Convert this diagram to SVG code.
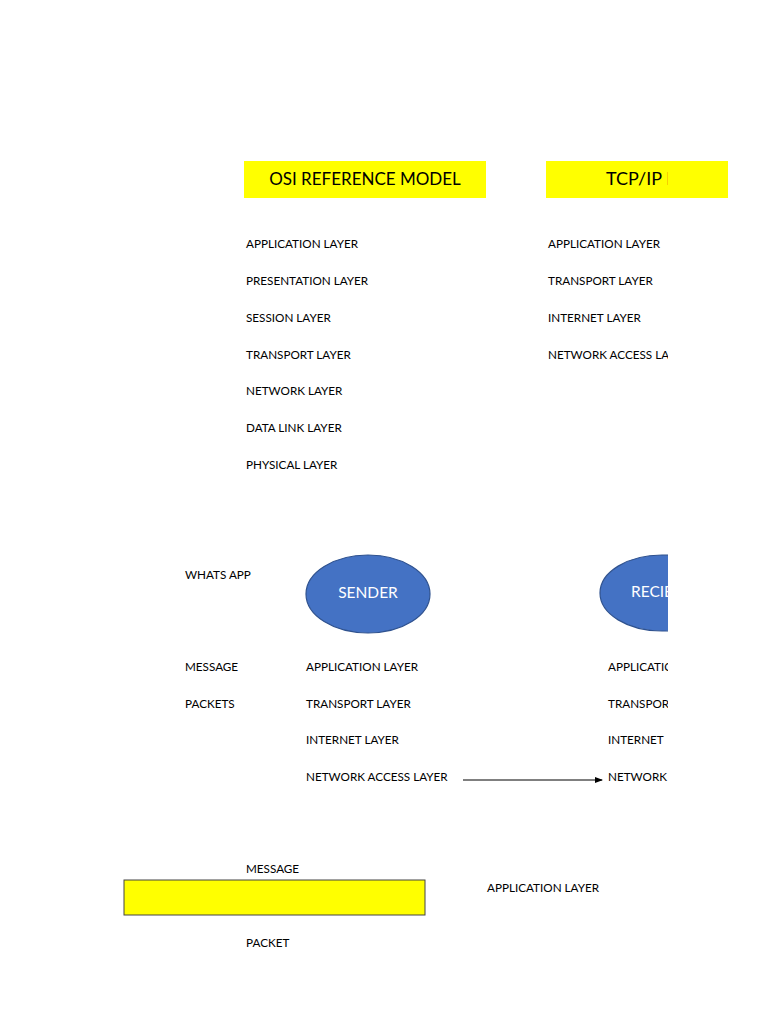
<svg xmlns="http://www.w3.org/2000/svg" width="768" height="1024" viewBox="0 0 768 1024">
<style>
.t{font-family:Lato,"Liberation Sans",sans-serif;font-size:11.7px;fill:#000}
.h{font-family:Lato,"Liberation Sans",sans-serif;font-size:17px;fill:#000}
.w{font-family:Lato,"Liberation Sans",sans-serif;font-size:15.5px;fill:#fff;text-anchor:middle}
.ell{fill:#4472C4;stroke:#2F528F;stroke-width:1.2}
</style>
<defs>
<clipPath id="clip"><rect x="0" y="0" width="668" height="1024"/></clipPath>
<marker id="arr" markerWidth="8" markerHeight="8" refX="7" refY="4" orient="auto" markerUnits="userSpaceOnUse">
<path d="M0,1 L8,4 L0,7 Z" fill="#000"/>
</marker>
</defs>
<rect width="768" height="1024" fill="#fff"/>
<g id="osi-title">
<rect x="244" y="161" width="242" height="37" fill="#FFFF00"/>
<text class="h" x="365" y="185" text-anchor="middle">OSI REFERENCE MODEL</text>
</g>
<g id="tcp-title">
<rect x="546" y="161" width="182" height="37" fill="#FFFF00"/>
<text class="h" x="606" y="185" style="font-size:18px" clip-path="url(#clip)">TCP/IP M</text>
</g>
<g id="osi-layers">
<text class="t" x="246" y="248">APPLICATION LAYER</text>
<text class="t" x="246" y="285">PRESENTATION LAYER</text>
<text class="t" x="246" y="322">SESSION LAYER</text>
<text class="t" x="246" y="359">TRANSPORT LAYER</text>
<text class="t" x="246" y="395">NETWORK LAYER</text>
<text class="t" x="246" y="432">DATA LINK LAYER</text>
<text class="t" x="246" y="469">PHYSICAL LAYER</text>
</g>
<g id="tcp-layers" clip-path="url(#clip)">
<text class="t" x="548" y="248">APPLICATION LAYER</text>
<text class="t" x="548" y="285">TRANSPORT LAYER</text>
<text class="t" x="548" y="322">INTERNET LAYER</text>
<text class="t" x="548" y="359">NETWORK ACCESS LA</text>
</g>
<g id="left-labels">
<text class="t" x="185" y="579">WHATS APP</text>
<text class="t" x="185" y="671">MESSAGE</text>
<text class="t" x="185" y="708">PACKETS</text>
</g>
<g id="sender">
<ellipse class="ell" cx="368" cy="594" rx="62" ry="39"/>
<text class="w" x="368" y="598">SENDER</text>
</g>
<g id="receiver" clip-path="url(#clip)">
<ellipse class="ell" cx="662" cy="593" rx="62" ry="38"/>
<text class="w" x="631" y="597" style="text-anchor:start">RECIE</text>
</g>
<g id="sender-layers">
<text class="t" x="306" y="671">APPLICATION LAYER</text>
<text class="t" x="306" y="708">TRANSPORT LAYER</text>
<text class="t" x="306" y="744">INTERNET LAYER</text>
<text class="t" x="306" y="781">NETWORK ACCESS LAYER</text>
</g>
<g id="receiver-layers" clip-path="url(#clip)">
<text class="t" x="608" y="671">APPLICATIO</text>
<text class="t" x="608" y="708">TRANSPOR</text>
<text class="t" x="608" y="744">INTERNET</text>
<text class="t" x="608" y="781">NETWORK</text>
</g>
<g id="connectors">
<line x1="463" y1="780" x2="602" y2="780" stroke="#000" stroke-width="1" marker-end="url(#arr)"/>
</g>
<g id="packet-box">
<text class="t" x="246" y="873">MESSAGE</text>
<rect x="124" y="880" width="301" height="35" fill="#FFFF00" stroke="#444" stroke-width="1"/>
<text class="t" x="246" y="947">PACKET</text>
<text class="t" x="487" y="892">APPLICATION LAYER</text>
</g>
</svg>
